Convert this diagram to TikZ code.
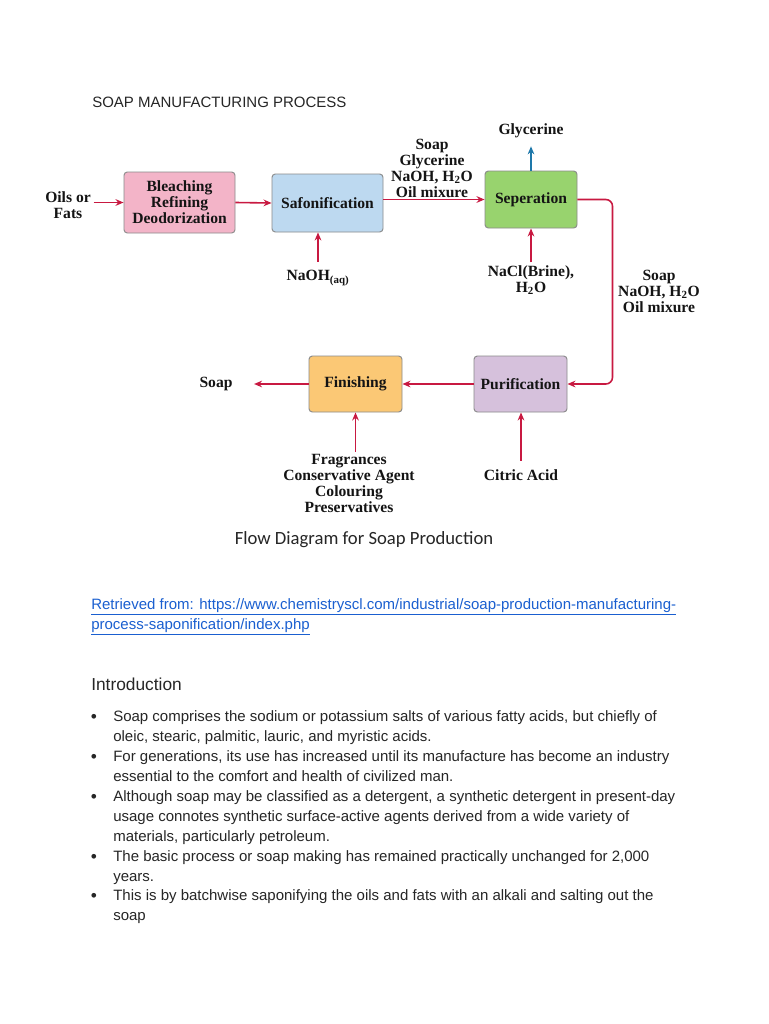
\documentclass[tikz,border=0pt]{standalone}
\usepackage{fontspec}
\setmainfont{Liberation Sans}
\newfontfamily\diagfont{Liberation Serif}
\newfontfamily\capfont{Carlito}
\usetikzlibrary{arrows.meta}
\definecolor{pinkbox}{HTML}{F3B4C8}
\definecolor{bluebox}{HTML}{BDD9F0}
\definecolor{greenbox}{HTML}{98D36E}
\definecolor{lavbox}{HTML}{D6C1DC}
\definecolor{orangebox}{HTML}{FBC875}
\definecolor{arrowred}{HTML}{C81941}
\definecolor{arrowblue}{HTML}{1E78AA}
\definecolor{boxgray}{HTML}{8A8A8A}
\definecolor{diagtext}{HTML}{141414}
\definecolor{bodytext}{HTML}{262626}
\definecolor{linkblue}{HTML}{1A5FD0}
\begin{document}
\begin{tikzpicture}[x=0.75pt,y=-0.75pt,
  procbox/.style={draw=boxgray, line width=0.7pt, rounded corners=2.5pt, inner sep=0pt,
    align=center, text=diagtext, font=\diagfont\bfseries\fontsize{11.7}{12}\selectfont},
  lbl/.style={inner sep=0pt, align=center, text=diagtext,
    font=\diagfont\bfseries\fontsize{11.7}{12}\selectfont},
  flow/.style={draw=arrowred, line width=1.2pt, -{Stealth[length=6pt,width=5pt]}},
  flowblue/.style={draw=arrowblue, line width=1.2pt, -{Stealth[length=6pt,width=5pt]}},
  bodyline/.style={anchor=base west, inner sep=0pt, text=bodytext, font=\fontsize{11.25}{13}\selectfont},
  bulletmark/.style={anchor=base, inner sep=0pt, text=bodytext, font=\fontsize{13}{13}\selectfont}
]
\useasboundingbox[fill=white] (0,0) rectangle (768,1024);

% title
\node[anchor=west, inner sep=0pt, text=bodytext, font=\fontsize{11.25}{13}\selectfont] (title) at (92,102) {SOAP MANUFACTURING PROCESS};

% boxes
\node[procbox, fill=pinkbox, minimum width=83.25pt, minimum height=45.75pt] (bleach) at (179.5,202.5) {Bleaching\\Refining\\Deodorization};
\node[procbox, fill=bluebox, minimum width=83.25pt, minimum height=43.5pt] (safo) at (327.5,203) {Safonification};
\node[procbox, fill=greenbox, minimum width=69pt, minimum height=42.75pt] (sep) at (531,199.5) {Seperation};
\node[procbox, fill=lavbox, minimum width=69.75pt, minimum height=42pt] (purif) at (520.5,384) {Purification};
\node[procbox, fill=orangebox, minimum width=69.75pt, minimum height=42pt] (fin) at (355.5,384) {Finishing};

% labels
\node[lbl] (oils) at (68,205) {Oils or\\Fats};
\node[lbl] (naoh) at (318,278) {NaOH\textsubscript{(aq)}};
\node[lbl] (mix1) at (432,168) {Soap\\Glycerine\\NaOH, H\textsubscript{2}O\\Oil mixure};
\node[lbl] (glyc) at (531,131) {Glycerine};
\node[lbl] (nacl) at (531,280) {NaCl(Brine),\\H\textsubscript{2}O};
\node[lbl] (mix2) at (659,291) {Soap\\NaOH, H\textsubscript{2}O\\Oil mixure};
\node[lbl] (citric) at (521,475) {Citric Acid};
\node[lbl] (frag) at (349,483) {Fragrances\\Conservative Agent\\Colouring\\Preservatives};
\node[lbl] (soapout) at (216,384) {Soap};
\coordinate (rt) at (612.5,202);

% connectors
\draw[flow, shorten <=2pt] (oils.east |- bleach.west) -- (bleach.west);
\draw[flow] (bleach.east) -- (safo.west);
\draw[flow, shorten <=6.5pt] (naoh.north) -- (naoh.north |- safo.south);
\draw[flow] (sep.west -| safo.east) -- (sep.west);
\draw[flowblue, shorten >=6pt] (sep.north) -- (sep.north |- glyc.south);
\draw[flow, shorten <=2pt] (nacl.north) -- (nacl.north |- sep.south);
\draw[flow, rounded corners=5pt] (sep.east) -| (rt |- purif.east) -- (purif.east);
\draw[flow, shorten <=6.5pt] (citric.north) -- (citric.north |- purif.south);
\draw[flow] (purif.west) -- (fin.east);
\draw[flow, shorten <=1.5pt] (fin.south |- frag.north) -- (fin.south);
\draw[flow, shorten >=16pt] (fin.west) -- (soapout.east);

% caption
\node[inner sep=0pt, text=bodytext, font=\capfont\fontsize{14}{16}\selectfont] (caption) at (364,540) {Flow Diagram for Soap Production};

% link
\node[bodyline, text=linkblue] (link1) at (91,609) {\underline{Retrieved from: https://www.chemistryscl.com/industrial/soap-production-manufacturing-}};
\node[bodyline, text=linkblue] (link2) at (91,629) {\underline{process-saponification/index.php}};

% heading
\node[anchor=base west, inner sep=0pt, text=bodytext, font=\fontsize{13}{15}\selectfont] (intro) at (91,690) {Introduction};

% bullets
\node[bulletmark] (b1) at (94,722) {•};
\node[bulletmark] (b2) at (94,762) {•};
\node[bulletmark] (b3) at (94,802) {•};
\node[bulletmark] (b4) at (94,862) {•};
\node[bulletmark] (b5) at (94,901) {•};

\node[bodyline] (l1) at (113,721) {Soap comprises the sodium or potassium salts of various fatty acids, but chiefly of};
\node[bodyline] (l2) at (113,741) {oleic, stearic, palmitic, lauric, and myristic acids.};
\node[bodyline] (l3) at (113,761) {For generations, its use has increased until its manufacture has become an industry};
\node[bodyline] (l4) at (113,781) {essential to the comfort and health of civilized man.};
\node[bodyline] (l5) at (113,801) {Although soap may be classified as a detergent, a synthetic detergent in present-day};
\node[bodyline] (l6) at (113,821) {usage connotes synthetic surface-active agents derived from a wide variety of};
\node[bodyline] (l7) at (113,841) {materials, particularly petroleum.};
\node[bodyline] (l8) at (113,861) {The basic process or soap making has remained practically unchanged for 2,000};
\node[bodyline] (l9) at (113,881) {years.};
\node[bodyline] (l10) at (113,900) {This is by batchwise saponifying the oils and fats with an alkali and salting out the};
\node[bodyline] (l11) at (113,920) {soap};
\end{tikzpicture}
\end{document}
